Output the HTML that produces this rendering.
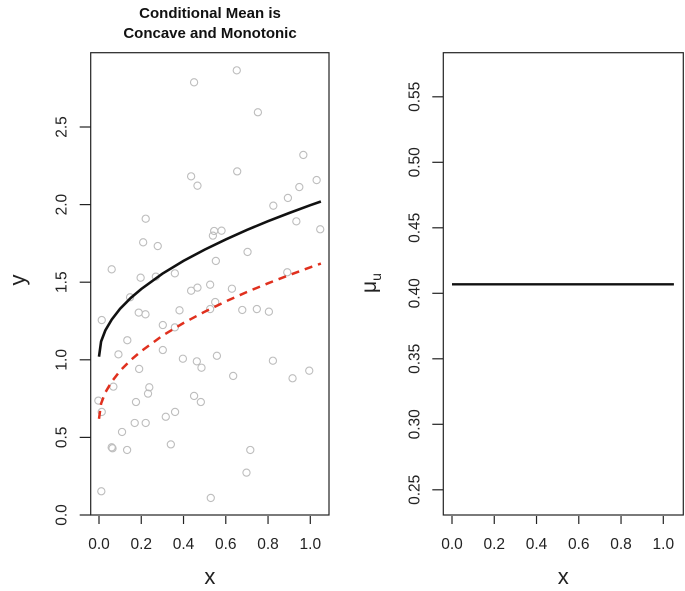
<!DOCTYPE html>
<html><head><meta charset="utf-8"><style>
html,body{margin:0;padding:0;background:#fff;}
svg{display:block;font-family:"Liberation Sans",Arial,sans-serif;}
</style></head><body>
<svg id="chart" width="685" height="591" viewBox="0 0 685 591">
<g id="left"></g>
<g id="right"></g>
</svg>
<script>
// ---- data ----
const pointX = [0.652,0.450,0.752,0.967,0.436,0.654,0.466,1.030,0.948,0.894,0.825,0.221,0.934,1.047,0.545,0.580,0.539,0.209,0.278,0.703,0.553,0.060,0.197,0.269,0.359,0.891,0.436,0.466,0.526,0.629,0.147,0.013,0.188,0.220,0.381,0.550,0.526,0.678,0.747,0.804,0.302,0.359,0.134,0.302,0.092,0.397,0.463,0.485,0.558,0.823,0.635,0.916,0.995,0.190,0.068,0.238,0.232,-0.003,0.013,0.175,0.450,0.482,0.316,0.360,0.169,0.221,0.109,0.340,0.060,0.064,0.133,0.716,0.698,0.011,0.529];
const pointY = [2.865,2.788,2.595,2.320,2.182,2.214,2.122,2.158,2.113,2.043,1.993,1.909,1.892,1.841,1.830,1.832,1.800,1.757,1.733,1.695,1.637,1.583,1.529,1.536,1.557,1.564,1.445,1.465,1.484,1.458,1.403,1.256,1.304,1.293,1.319,1.372,1.327,1.321,1.327,1.310,1.224,1.209,1.126,1.063,1.035,1.007,0.990,0.949,1.026,0.994,0.896,0.881,0.930,0.941,0.827,0.823,0.782,0.737,0.664,0.728,0.767,0.728,0.633,0.664,0.593,0.593,0.535,0.455,0.436,0.430,0.419,0.419,0.273,0.153,0.110];
const curveX = [0,0.01,0.03,0.06,0.1,0.15,0.2,0.3,0.4,0.5,0.6,0.7,0.8,0.9,1.0,1.05];
const meanY = [1.02,1.118,1.189,1.259,1.329,1.398,1.456,1.555,1.637,1.710,1.776,1.837,1.893,1.946,1.996,2.020];
const dashedY = [0.62,0.718,0.789,0.859,0.929,0.998,1.056,1.155,1.237,1.310,1.376,1.437,1.493,1.546,1.596,1.620];
const xTicks = [0,0.2,0.4,0.6,0.8,1.0];
const xTickLabels = ["0.0","0.2","0.4","0.6","0.8","1.0"];
const yTicksL = [0,0.5,1.0,1.5,2.0,2.5];
const yTickLabelsL = ["0.0","0.5","1.0","1.5","2.0","2.5"];
const yTicksR = [0.25,0.30,0.35,0.40,0.45,0.50,0.55];
const yTickLabelsR = ["0.25","0.30","0.35","0.40","0.45","0.50","0.55"];
const muX = [0, 1.05];
const muY = [0.4069, 0.4069];

const NS="http://www.w3.org/2000/svg";
function mk(parent,tag,attrs,text){const e=document.createElementNS(NS,tag);for(const k in attrs)e.setAttribute(k,attrs[k]);if(text!==undefined)e.textContent=text;parent.appendChild(e);return e;}

// axis functions
const xL = v => 99 + v*211.3;
const yL = v => 515 - v*155.2;
const xR = v => 452 + v*211.3;
const yR = v => 293.3 - (v-0.40)*1310;

const L=document.getElementById('left'), R=document.getElementById('right');

function panel(g, box, xs, ys, yTicks, yLabels, labX){
  const b=mk(g,'rect',{x:box[0],y:box[1],width:box[2]-box[0],height:box[3]-box[1],fill:'none',stroke:'#222','stroke-width':1.2});
  
  
  xTicks.forEach((t,i)=>{
    const l=mk(g,'line',{x1:xs(t),x2:xs(t),y1:516,y2:524,stroke:'#222','stroke-width':1.2});
    
    
    const tx=mk(g,'text',{x:xs(t),y:549,'text-anchor':'middle','font-size':15.5,fill:'#222'},xTickLabels[i]);
    
    
  });
  yTicks.forEach((t,i)=>{
    const y=ys(t);
    const l=mk(g,'line',{x1:box[0]-11,x2:box[0],y1:y,y2:y,stroke:'#222','stroke-width':1.2});
    
    
    const tx=mk(g,'text',{x:labX,y:y,'text-anchor':'middle','font-size':15.5,fill:'#222',transform:`rotate(-90 ${labX} ${y})`,dy:5.5},yLabels[i]);
    
    
  });
  const xl=mk(g,'text',{x:(box[0]+box[2])/2,y:584,'text-anchor':'middle','font-size':22,fill:'#222'},'x');
  
  
}

panel(L,[90.7,52.7,329,515],xL,yL,yTicksL,yTickLabelsL,61);
panel(R,[443.3,52.7,683.3,515],xR,yR,yTicksR,yTickLabelsR,414);

// left extras
const yt=mk(L,'text',{x:18,y:280,'text-anchor':'middle','font-size':22,fill:'#222',transform:'rotate(-90 18 280)',dy:7},'y');


const t1=mk(L,'text',{x:210,y:18,'text-anchor':'middle','font-size':15,'font-weight':'bold',fill:'#111'},'Conditional Mean is');


const t2=mk(L,'text',{x:210,y:38,'text-anchor':'middle','font-size':15,'font-weight':'bold',fill:'#111'},'Concave and Monotonic');



pointX.forEach((x,i)=>{
  const c=mk(L,'circle',{cx:xL(x),cy:yL(pointY[i]),r:3.6,fill:'none',stroke:'#bdbdbd','stroke-width':1.1});
  
  
});
const path=(xs,ys,fx,fy)=>xs.map((x,i)=>(i?'L':'M')+fx(x).toFixed(1)+' '+fy(ys[i]).toFixed(1)).join(' ');
const red=mk(L,'path',{d:path(curveX,dashedY,xL,yL),fill:'none',stroke:'#e0301e','stroke-width':2.5,'stroke-dasharray':'8 6'});


const blk=mk(L,'path',{d:path(curveX,meanY,xL,yL),fill:'none',stroke:'#111','stroke-width':2.6});



// right extras
const mu=mk(R,'text',{x:370,y:283,'text-anchor':'middle','font-size':21,fill:'#222',transform:'rotate(-90 370 283)',dy:6});


mu.innerHTML='μ<tspan font-size="14" dy="5">u</tspan>';
const ml=mk(R,'path',{d:path(muX,muY,xR,yR),fill:'none',stroke:'#111','stroke-width':2.4});


</script>
</body></html>
